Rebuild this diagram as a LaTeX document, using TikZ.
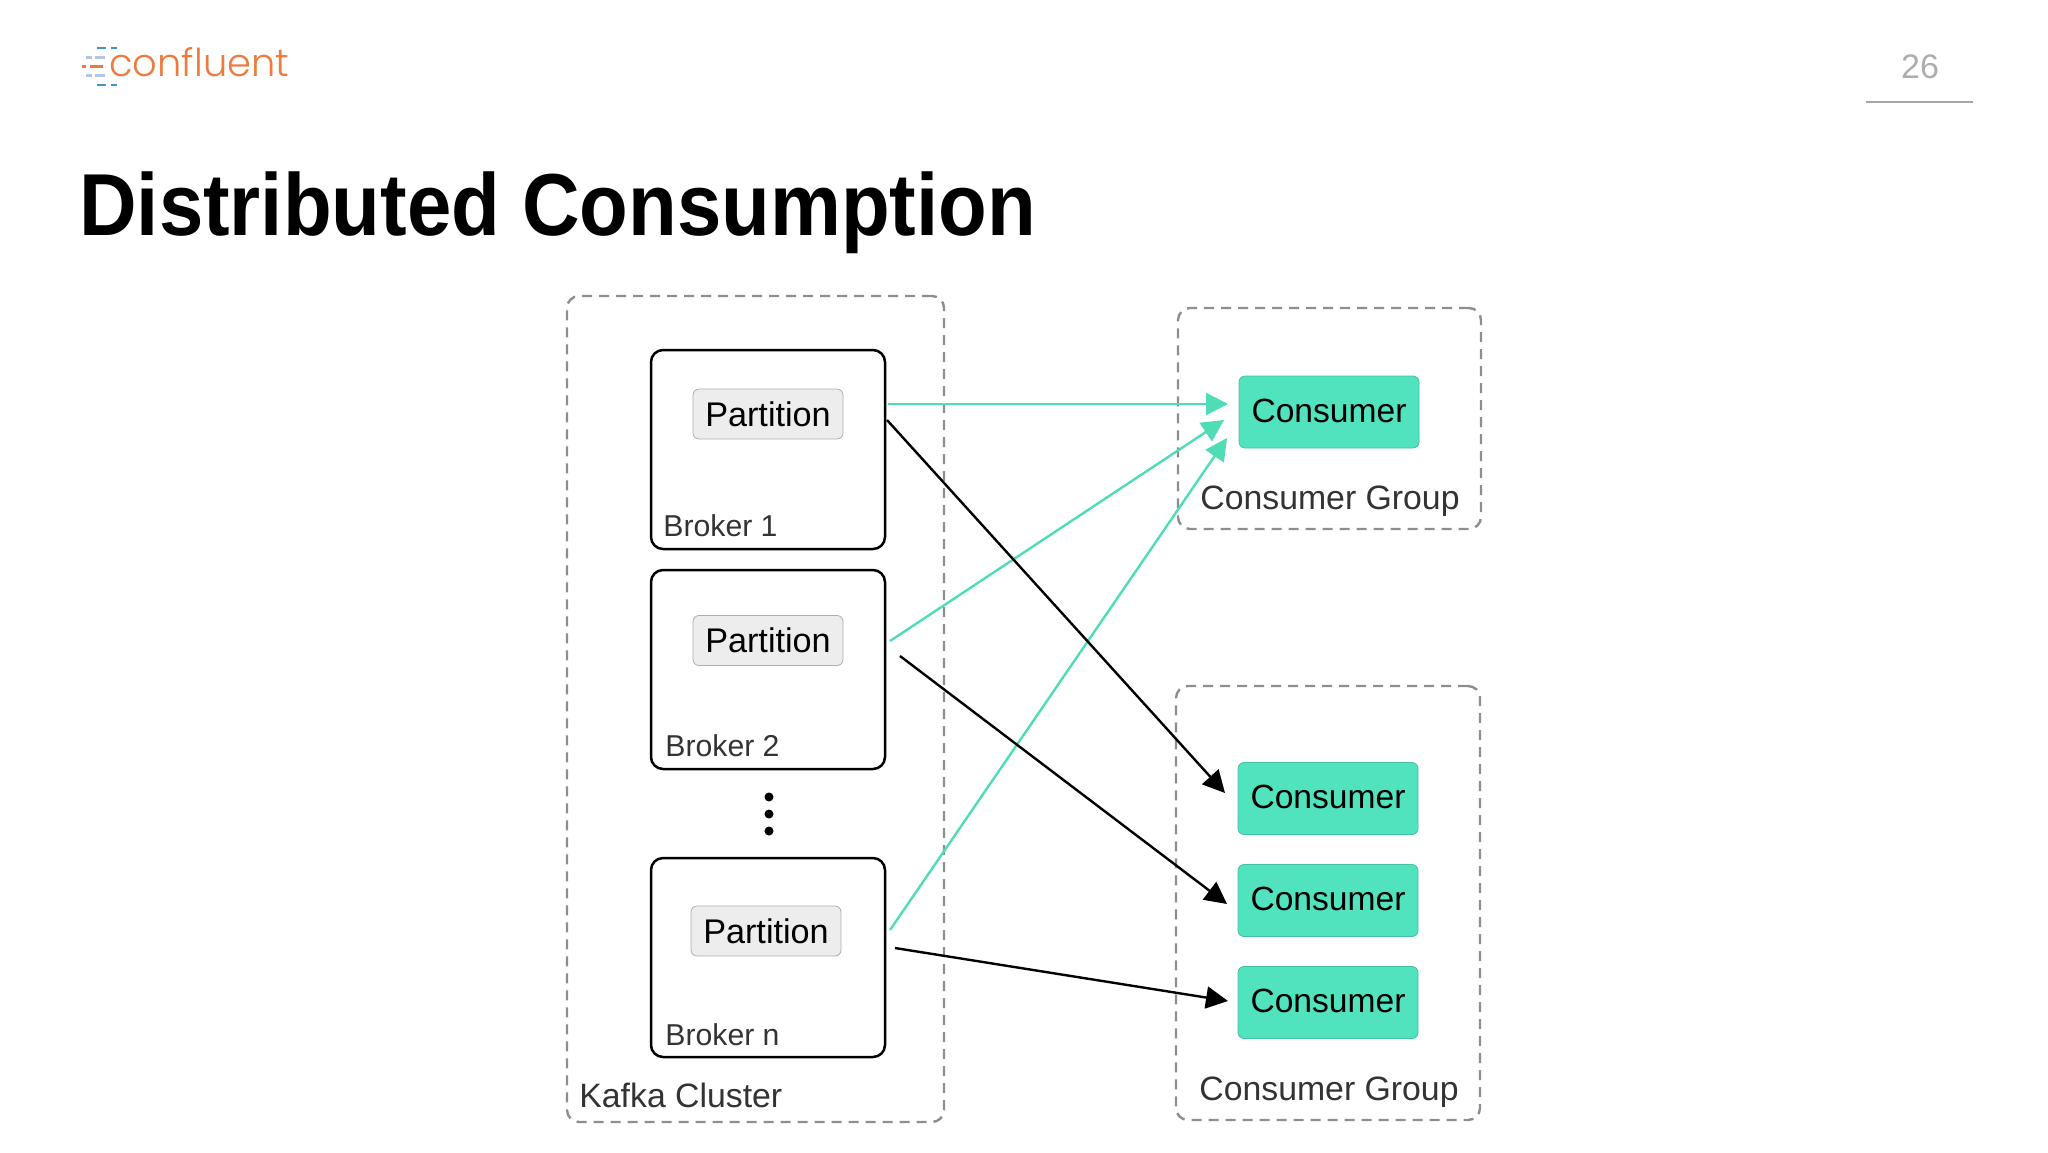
\documentclass[tikz,border=0pt]{standalone}
\usepackage{fontspec}
\setmainfont{Liberation Sans}
\newfontfamily\logofont{Poppins Light}
\usetikzlibrary{arrows.meta}

\definecolor{tealfill}{HTML}{50E3BE}
\definecolor{tealline}{HTML}{4FDDB8}
\definecolor{boxgray}{HTML}{8E8E8E}
\definecolor{logoorange}{HTML}{EE7A3C}
\definecolor{logoblue}{HTML}{3C96C8}
\definecolor{logopale}{HTML}{B6C6E0}

\begin{document}
\begin{tikzpicture}[x=0.5pt, y=-0.5pt,
	groupbox/.style={draw=boxgray, line width=1.2pt, dash pattern=on 5pt off 3.5pt, rounded corners=6pt, inner sep=0pt},
	brokerbox/.style={draw=black, line width=1.25pt, rounded corners=6pt, minimum width=117pt, minimum height=99.5pt, inner sep=0pt},
	partbox/.style={draw=black!32, fill=black!7, rounded corners=3pt, minimum width=75pt, minimum height=25pt, inner sep=0pt, font=\fontsize{17.1}{20}\selectfont},
	consbox/.style={draw=tealfill!85!black, fill=tealfill, rounded corners=3pt, minimum width=90pt, minimum height=36pt, inner sep=0pt, text depth=1.6pt, font=\fontsize{16.8}{20}\selectfont},
	tag/.style={anchor=base west, inner sep=0pt, text=black!80, font=\fontsize{16.9}{20}\selectfont},
	smalltag/.style={anchor=base west, inner sep=0pt, text=black!80, font=\fontsize{15.1}{18}\selectfont},
	dotmark/.style={circle, fill=black, minimum size=4.5pt, inner sep=0pt},
	tealarrow/.style={draw=tealline, line width=1.2pt, -{Triangle[length=11pt,width=11pt,fill=tealline]}},
	blackarrow/.style={draw=black, line width=1.2pt, -{Triangle[length=11pt,width=11pt,fill=black]}}]
	\useasboundingbox (0,0) rectangle (2048,1152);

	% header
	\foreach \ypos/\col in {48/logoblue,85/logoblue}{
		\draw[\col, line width=1.4pt] (97,\ypos) -- (106,\ypos) (111,\ypos) -- (117,\ypos);
	}
	\foreach \ypos in {57.5,75.5}{
		\draw[logopale, line width=1.4pt] (86,\ypos) -- (92,\ypos) (95,\ypos) -- (105,\ypos);
	}
	\draw[logoorange, line width=1.4pt] (82,66.5) -- (86,66.5) (90,66.5) -- (103,66.5);
	\node[anchor=base west, inner sep=0pt, text=logoorange, font=\logofont\fontsize{19.2}{24}\selectfont] (logo) at(109,76){confluent};
	\node[text=black!32, inner sep=0pt, font=\fontsize{17}{20}\selectfont] (page) at(1920,67){26};
	\coordinate (ruleL) at(1866,102);
	\coordinate (ruleR) at(1973,102);
	\draw[black!35, line width=0.8pt] (ruleL) -- (ruleR);
	\node[anchor=base west, inner sep=0pt, xscale=0.906, transform shape, font=\fontsize{44}{50}\selectfont\bfseries] (title) at(79,235){Distributed Consumption};

	% dashed groups
	\node[groupbox, minimum width=188.5pt, minimum height=413pt] (cluster) at(755.5,709){};
	\node[groupbox, minimum width=151.5pt, minimum height=110.5pt] (groupA) at(1329.5,418.5){};
	\node[groupbox, minimum width=152pt, minimum height=217pt] (groupB) at(1328,903){};

	% brokers
	\node[brokerbox] (B1) at(768,449.5){};
	\node[brokerbox] (B2) at(768,669.5){};
	\node[brokerbox] (Bn) at(768,957.5){};
	\node[partbox] (P1) at(768,414){Partition};
	\node[partbox] (P2) at(768,640.5){Partition};
	\node[partbox] (Pn) at(766,931){Partition};
	\node[smalltag] (L1) at(663,536){Broker 1};
	\node[smalltag] (L2) at(665,756){Broker 2};
	\node[smalltag] (Ln) at(665,1045){Broker n};
	\node[dotmark] (dot1) at(769,797){};
	\node[dotmark] (dot2) at(769,814){};
	\node[dotmark] (dot3) at(769,831){};
	\node[tag] (LK) at(579,1107){Kafka Cluster};

	% consumers
	\node[consbox] (C0) at(1329,412){Consumer};
	\node[consbox] (C1) at(1328,798.5){Consumer};
	\node[consbox] (C2) at(1328,900.5){Consumer};
	\node[consbox] (C3) at(1328,1002.5){Consumer};
	\node[tag, anchor=base] (LA) at(1330,509){Consumer Group};
	\node[tag, anchor=base] (LB) at(1329,1100){Consumer Group};

	% arrow ends
	\coordinate (t1) at(888,404);
	\coordinate (t2) at(890,641);
	\coordinate (t3) at(890,930);
	\coordinate (k1) at(887,420);
	\coordinate (k2) at(900,656);
	\coordinate (k3) at(895,948);
	\coordinate (inA) at(1228,404);
	\coordinate (inB) at(1224,420);
	\coordinate (inC) at(1227,438);
	\coordinate (in1) at(1225,793);
	\coordinate (in2) at(1227,904);
	\coordinate (in3) at(1228,1001);

	\draw[tealarrow] (t1) -- (inA);
	\draw[tealarrow] (t2) -- (inB);
	\draw[tealarrow] (t3) -- (inC);
	\draw[blackarrow] (k1) -- (in1);
	\draw[blackarrow] (k2) -- (in2);
	\draw[blackarrow] (k3) -- (in3);
\end{tikzpicture}
\end{document}
